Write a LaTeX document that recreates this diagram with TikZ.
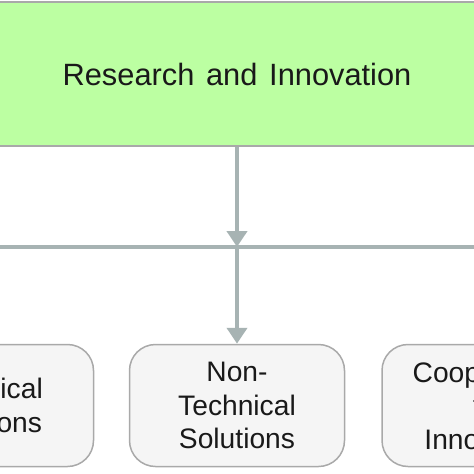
\documentclass[tikz,border=0pt]{standalone}
\usepackage{fontspec}
\setmainfont{Liberation Sans}
\usetikzlibrary{arrows.meta}
\definecolor{leaf}{HTML}{BCFFA2}
\definecolor{wire}{HTML}{A7B3B3}
\definecolor{boxfill}{HTML}{F5F5F5}
\definecolor{boxline}{HTML}{A9A9A9}

\begin{document}
\begin{tikzpicture}[x=1pt,y=-1pt]
	\tikzstyle{topic}=[draw=boxline, line width=1.5pt, fill=leaf, minimum width=560pt, minimum height=144pt, font=\fontsize{30.8}{36}\selectfont, text=black!90]
	\tikzstyle{branch}=[draw=boxline, line width=1.5pt, fill=boxfill, rounded corners=26pt, minimum width=215pt, minimum height=122pt, align=center, font=\fontsize{28.2}{33.5}\selectfont, text=black!90]
	\tikzstyle{link}=[draw=wire, line width=4.5pt, -{Triangle[length=16pt,width=20pt]}]
	\useasboundingbox (0,0) rectangle (474,474);
	\clip (0,0) rectangle (474,474);
	\node[topic] (research) at (237,74) {Research\hspace{0.38em}and\hspace{0.38em}Innovation};
	\node[branch, text width=180pt] (technical) at (-14,405.5) {\hspace*{-4pt}Technical\\\hspace*{-4pt}Solutions};
	\node[branch] (nontechnical) at (237,405.5) {Non-\\Technical\\Solutions};
	\node[branch] (cooperation) at (489.5,405.5) {Cooperation\\for\\Innovation};
	\coordinate (busL) at (-20,247);
	\coordinate (busR) at (494,247);
	\coordinate (hub) at (237,247);
	\draw[wire, line width=4pt] (busL) -- (busR);
	\draw[link] (research) -- (hub);
	\draw[link] (hub) -- (nontechnical);
\end{tikzpicture}
\end{document}
